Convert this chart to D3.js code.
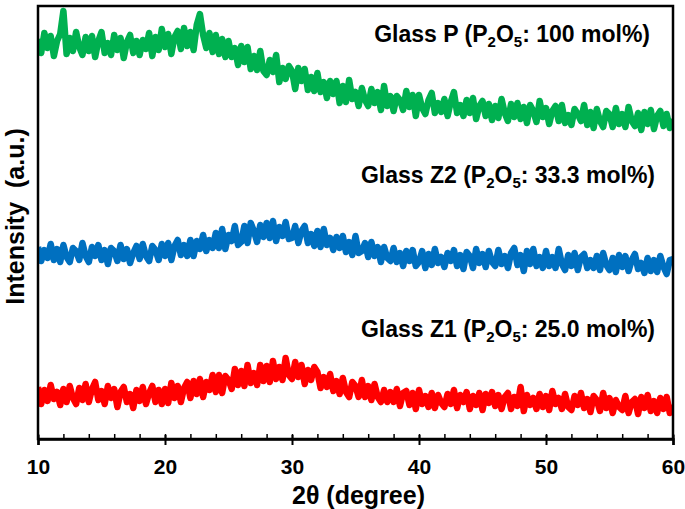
<!DOCTYPE html>
<html>
<head>
<meta charset="utf-8">
<script src="https://cdn.jsdelivr.net/npm/d3@7/dist/d3.min.js"></script>
<style>
  html, body { margin: 0; padding: 0; background: #fff; }
  svg { display: block; }
  text { font-family: "Liberation Sans", Arial, Helvetica, sans-serif; font-weight: bold; fill: #000; }
</style>
</head>
<body>
<svg id="chart" width="685" height="509"></svg>
<script>
// ---- data, 2θ from 10 to 60 in 0.25° steps ----
const angleStart = 10, angleEnd = 60, angleStep = 0.25;
const xTicks = [10, 20, 30, 40, 50, 60];

const glassP = [
  400,386,406,391,403,383,398,405,
  428,385,401,388,407,392,384,402,
  388,403,382,398,407,386,396,384,
  404,389,401,381,397,404,386,398,
  384,399,390,406,383,402,389,410,
  392,405,385,402,408,390,411,393,
  407,389,414,425,404,391,406,387,
  404,385,400,382,398,382,391,374,
  393,377,392,370,383,369,388,368,
  364,379,367,384,357,371,360,373,
  368,350,371,358,370,349,362,348,
  366,347,357,341,358,345,358,336,
  353,337,359,340,347,333,351,339,
  333,350,336,347,329,353,333,343,
  328,343,339,329,348,332,344,323,
  344,331,325,339,346,326,336,327,
  340,323,337,347,326,334,323,339,
  326,341,320,333,338,323,335,319,
  333,321,340,326,318,335,322,336,
  320,332,316,334,328,317,338,322,
  331,315,328,333,318,334,316,324,
  314,330,325,318,334,314,327,311,
  330,318,312,328,325,312,331,315,
  325,312,332,318,313,326,309,327,
  315,329,310,323,328,313,325,311,
  320
];

const glassZ2 = [
  192,178,189,181,195,179,190,177,
  194,182,177,191,188,179,196,183,
  177,192,183,194,179,189,175,191,
  188,178,194,180,190,176,186,193,
  180,195,183,178,193,189,179,195,
  183,196,179,193,199,184,194,183,
  199,183,198,190,204,188,199,191,
  206,191,210,190,204,198,213,194,
  197,213,196,216,208,197,214,202,
  216,201,218,198,212,203,217,200,
  201,213,196,208,213,196,205,193,
  208,192,210,194,201,189,202,191,
  203,187,197,184,203,186,188,196,
  182,197,183,192,177,192,181,178,
  191,177,186,173,188,178,189,173,
  177,188,171,185,174,190,176,182,
  172,186,178,189,173,184,170,187,
  183,171,190,176,185,172,188,177,
  173,189,175,183,171,186,191,174,
  184,168,188,175,190,173,182,171,
  188,173,182,171,190,175,169,184,
  173,186,169,182,185,171,179,171,
  183,169,186,174,169,181,167,184,
  172,183,168,179,185,170,176,166,
  181,168,179,167,183,172,165,179,
  180
];

const glassZ1 = [
  52,35,49,38,54,40,47,34,
  50,37,53,41,35,51,39,55,
  37,50,57,39,48,35,53,41,
  50,32,47,52,37,45,31,49,
  38,52,35,46,53,37,49,35,
  50,36,56,41,53,37,51,57,
  41,58,45,60,42,57,49,64,
  47,64,46,63,59,50,70,54,
  68,53,74,56,66,54,74,58,
  73,57,78,60,72,59,81,64,
  60,77,62,74,55,69,59,72,
  67,51,62,52,65,48,58,45,
  61,47,42,57,53,42,59,42,
  53,39,55,42,37,49,37,47,
  37,50,33,46,48,34,46,30,
  49,35,43,32,46,31,44,36,
  32,45,35,49,31,44,37,47,
  30,43,34,46,29,45,36,47,
  33,44,30,42,46,30,42,33,
  52,28,44,34,41,30,45,32,
  43,29,48,35,41,30,45,32,
  29,43,34,46,31,40,27,43,
  39,28,46,31,41,26,39,32,
  29,43,26,37,40,25,42,31,
  44,28,38,26,41,30,42,26,
  34
];

const seriesNames = ["Glass P", "Glass Z2", "Glass Z1"];
const seriesP2O5 = ["100", "33.3", "25.0"];
const seriesColors = ["#00b050", "#0070c0", "#ff0000"];
const seriesValues = [glassP, glassZ2, glassZ1];
const yMax = 433;

// ---- layout ----
const W = 685, H = 509;
const margin = { top: 6, right: 12, bottom: 70, left: 38 };
const iw = W - margin.left - margin.right;
const ih = H - margin.top - margin.bottom;

const svg = d3.select("#chart");
const g = svg.append("g").attr("transform", `translate(${margin.left},${margin.top})`);

const angles = d3.range(angleStart, angleEnd + angleStep / 2, angleStep);
const x = d3.scaleLinear().domain([angleStart, angleEnd]).range([0, iw]);
const y = d3.scaleLinear().domain([0, yMax]).range([ih, 0]);

svg.append("defs").append("clipPath").attr("id", "clip")
  .append("rect").attr("x", 0).attr("y", 0).attr("width", iw).attr("height", ih);

const line = d3.line()
  .x((d, i) => x(angles[i]))
  .y(d => y(d));

const plot = g.append("g").attr("clip-path", "url(#clip)");
seriesValues.forEach((vals, k) => {
  plot.append("path")
    .datum(vals)
    .attr("fill", "none")
    .attr("stroke", seriesColors[k])
    .attr("stroke-width", 6.5)
    .attr("stroke-linejoin", "round")
    .attr("d", line);
});

// ---- frame ----
g.append("rect")
  .attr("x", 0).attr("y", 0).attr("width", iw).attr("height", ih)
  .attr("fill", "none").attr("stroke", "#000").attr("stroke-width", 2.5);

// minor ticks (inward)
const minorAxis = d3.axisBottom(x)
  .tickValues(d3.range(angleStart, angleEnd + 0.001, 2))
  .tickSize(-5).tickFormat("");
const gm = g.append("g").attr("transform", `translate(0,${ih})`).call(minorAxis);
gm.select(".domain").remove();
gm.selectAll("line").attr("stroke", "#000").attr("stroke-width", 1.5);

// major ticks (crossing)
const majorAxis = d3.axisBottom(x).tickValues(xTicks).tickSize(6).tickPadding(14)
  .tickFormat(d3.format("d"));
const gx = g.append("g").attr("transform", `translate(0,${ih})`).call(majorAxis);
gx.select(".domain").attr("stroke", "#000").attr("stroke-width", 2.5);
gx.selectAll(".tick line").attr("stroke", "#000").attr("stroke-width", 2).attr("y1", -4);
gx.selectAll(".tick text")
  .style("font-family", '"Liberation Sans", Arial, sans-serif')
  .style("font-weight", "bold")
  .style("font-size", "21px")
  .attr("fill", "#000");

// ---- axis titles ----
svg.append("text")
  .attr("x", margin.left + iw / 2 + 3)
  .attr("y", 504)
  .attr("text-anchor", "middle")
  .style("font-size", "25px")
  .text("2θ (degree)");

svg.append("text")
  .attr("transform", `translate(24,${margin.top + ih / 2 - 6}) rotate(-90)`)
  .attr("text-anchor", "middle")
  .style("font-size", "25px")
  .text("Intensity\u00a0 (a.u.)");

// ---- series labels ----
const labelPos = [
  { x: 650, y: 42 },
  { x: 655, y: 183 },
  { x: 655, y: 337 }
];
seriesNames.forEach((name, k) => {
  const t = svg.append("text")
    .attr("x", labelPos[k].x).attr("y", labelPos[k].y)
    .attr("text-anchor", "end")
    .style("font-size", "23px");
  t.append("tspan").text(name + " (P");
  t.append("tspan").attr("dy", 5).style("font-size", "15px").text("2");
  t.append("tspan").attr("dy", -5).text("O");
  t.append("tspan").attr("dy", 5).style("font-size", "15px").text("5");
  t.append("tspan").attr("dy", -5).text(": " + seriesP2O5[k] + " mol%)");
});
</script>
</body>
</html>
